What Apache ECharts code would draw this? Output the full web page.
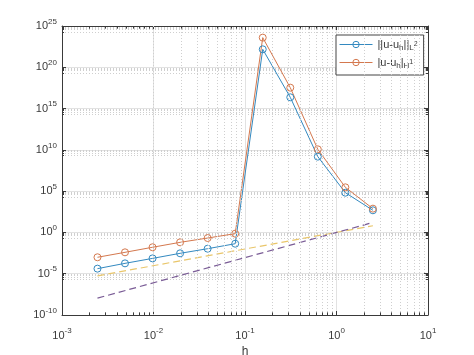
<!DOCTYPE html>
<html>
<head>
<meta charset="utf-8">
<script src="https://cdn.jsdelivr.net/npm/echarts@6/dist/echarts.min.js"></script>
<style>html,body{margin:0;padding:0;background:#fff}#c{width:474px;height:355px}</style>
</head>
<body>
<div id="c"></div>
<script>
// mesh sizes
const hValues = [0.00244140625, 0.0048828125, 0.009765625, 0.01953125, 0.0390625, 0.078125, 0.15625, 0.3125, 0.625, 1.25, 2.5];
// ||u-u_h||_{L^2}
const errL2 = [4.1e-5, 1.8e-4, 7.2e-4, 2.95e-3, 1.07e-2, 4.3e-2, 1.5e22, 2.3e16, 1.5e9, 6.5e4, 480];
// |u-u_h|_{H^1}
const errH1 = [9.8e-4, 3.9e-3, 1.6e-2, 6.3e-2, 0.21, 0.71, 3.9e23, 3.4e17, 1.15e10, 2.9e5, 760];
// reference slopes
const refH = [0.00244140625, 2.5];
const refYellow = [5.5e-6, 6.5];
const refPurple = [1.1e-8, 16];
const seriesNames = ['L2', 'H1'];
const legendLabels = {
  L2: '||u-u{sub|h}||{sub|L}{ss|2}',
  H1: '|u-u{sub|h}|{sub|H}{ss|1}'
};
const xMinorFactors = [2, 3, 4, 5, 6, 7, 8, 9];
const xDecades = [1e-3, 1e-2, 1e-1, 1];
const yMin = 1e-10, yMax = 1e25;

const FONT = '"Liberation Sans", Arial, Helvetica, sans-serif';
const AX = '#3a3a3a';
const chart = echarts.init(document.getElementById('c'), null, {renderer: 'canvas'});

function powLabel(v) {
  const e = Math.round(Math.log10(v));
  return '{b|10}{sup|' + e + '}';
}
const labelRich = {
  b: {fontSize: 11, fontFamily: FONT, color: AX},
  sup: {fontSize: 8, fontFamily: FONT, color: AX, padding: [0, 0, 9, 0]}
};

const minorXValues = [];
xDecades.forEach(d => xMinorFactors.forEach(f => minorXValues.push(d * f)));
const minorGrid = minorXValues.map(x => ({xAxis: x}));
// short minor tick marks at bottom and top edges (tick length as a fraction of a decade)
const tickDec = 0.32;
const minorTicks = [];
minorXValues.forEach(x => {
  minorTicks.push([{coord: [x, yMin]}, {coord: [x, yMin * Math.pow(10, tickDec)]}]);
  minorTicks.push([{coord: [x, yMax]}, {coord: [x, yMax / Math.pow(10, tickDec)]}]);
});

const baseX = {
  type: 'log', logBase: 10, min: 1e-3, max: 10,
  axisLine: {show: true, onZero: false, lineStyle: {color: AX, width: 1}},
  axisTick: {show: true, inside: true, length: 4, lineStyle: {color: AX}},
  splitLine: {show: true, lineStyle: {color: '#e2e2e2', width: 1}},
  minorTick: {show: false},
  minorSplitLine: {show: false}
};
const baseY = {
  type: 'log', logBase: 10, min: yMin, max: yMax, interval: 5,
  axisLine: {show: true, onZero: false, lineStyle: {color: AX, width: 1}},
  axisTick: {show: true, inside: true, length: 4, lineStyle: {color: AX}},
  splitLine: {show: true, lineStyle: {color: '#e2e2e2', width: 1}},
  minorTick: {show: true, splitNumber: 5, length: 2, lineStyle: {color: AX}},
  minorSplitLine: {show: true, lineStyle: {color: '#cfcfcf', width: 1, type: [1, 2]}}
};

const option = {
  backgroundColor: '#fff',
  animation: false,
  grid: {left: 62, right: 46, top: 26, bottom: 40, containLabel: false, outerBoundsMode: 'none'},
  xAxis: [
    Object.assign({}, baseX, {
      position: 'bottom',
      name: 'h', nameLocation: 'middle', nameGap: 29,
      nameTextStyle: {fontSize: 12, fontFamily: FONT, color: AX},
      axisLabel: {show: true, margin: 12, formatter: powLabel, rich: labelRich}
    }),
    Object.assign({}, baseX, {
      position: 'top', splitLine: {show: false},
      axisLabel: {show: false}
    })
  ],
  yAxis: [
    Object.assign({}, baseY, {
      position: 'left',
      axisLabel: {show: true, margin: 5, formatter: powLabel, rich: labelRich}
    }),
    Object.assign({}, baseY, {
      position: 'right', splitLine: {show: false}, minorSplitLine: {show: false},
      axisLabel: {show: false}
    })
  ],
  legend: {
    data: seriesNames,
    orient: 'vertical',
    left: 336, top: 35,
    padding: [4, 6, 5, 3],
    itemGap: 5,
    itemWidth: 33, itemHeight: 8,
    backgroundColor: '#fff',
    borderColor: '#444', borderWidth: 1, borderRadius: 0,
    lineStyle: {width: 1},
    itemStyle: {borderWidth: 1},
    formatter: n => legendLabels[n],
    textStyle: {
      fontSize: 11, fontFamily: FONT, color: AX,
      rich: {
        sub: {fontSize: 8, fontFamily: FONT, color: AX, padding: [7, 0, 0, 0]},
        ss: {fontSize: 7, fontFamily: FONT, color: AX, padding: [0, 0, 1, 0]}
      }
    }
  },
  series: [
    {
      name: 'L2', type: 'line', xAxisIndex: 0, yAxisIndex: 0,
      data: hValues.map((h, i) => [h, errL2[i]]),
      symbol: 'circle', symbolSize: 7,
      lineStyle: {color: '#3389c0', width: 1},
      itemStyle: {color: 'rgba(0,0,0,0)', borderColor: '#3389c0', borderWidth: 1},
      z: 3
    },
    {
      name: 'H1', type: 'line', xAxisIndex: 0, yAxisIndex: 0,
      data: hValues.map((h, i) => [h, errH1[i]]),
      symbol: 'circle', symbolSize: 7,
      lineStyle: {color: '#d4784e', width: 1},
      itemStyle: {color: 'rgba(0,0,0,0)', borderColor: '#d4784e', borderWidth: 1},
      z: 3
    },
    {
      name: 'ref2', type: 'line', xAxisIndex: 0, yAxisIndex: 0,
      data: refH.map((h, i) => [h, refYellow[i]]),
      symbol: 'none',
      lineStyle: {color: '#e9c66a', width: 1.2, type: [7, 4]}
    },
    {
      name: 'ref3', type: 'line', xAxisIndex: 0, yAxisIndex: 0,
      data: refH.map((h, i) => [h, refPurple[i]]),
      symbol: 'none',
      lineStyle: {color: '#7a5c96', width: 1.2, type: [7, 4]}
    },
    {
      name: 'minorGrid', type: 'line', xAxisIndex: 0, yAxisIndex: 0,
      data: [], silent: true,
      markLine: {
        silent: true, symbol: 'none', label: {show: false}, animation: false,
        lineStyle: {color: '#cfcfcf', width: 1, type: [1, 2]},
        data: minorGrid
      },
      z: 1
    },
    {
      name: 'minorTicks', type: 'line', xAxisIndex: 0, yAxisIndex: 0,
      data: [], silent: true,
      markLine: {
        silent: true, symbol: 'none', label: {show: false}, animation: false,
        lineStyle: {color: AX, width: 1, type: 'solid'},
        data: minorTicks
      },
      z: 4
    }
  ]
};
chart.setOption(option);
</script>
</body>
</html>
